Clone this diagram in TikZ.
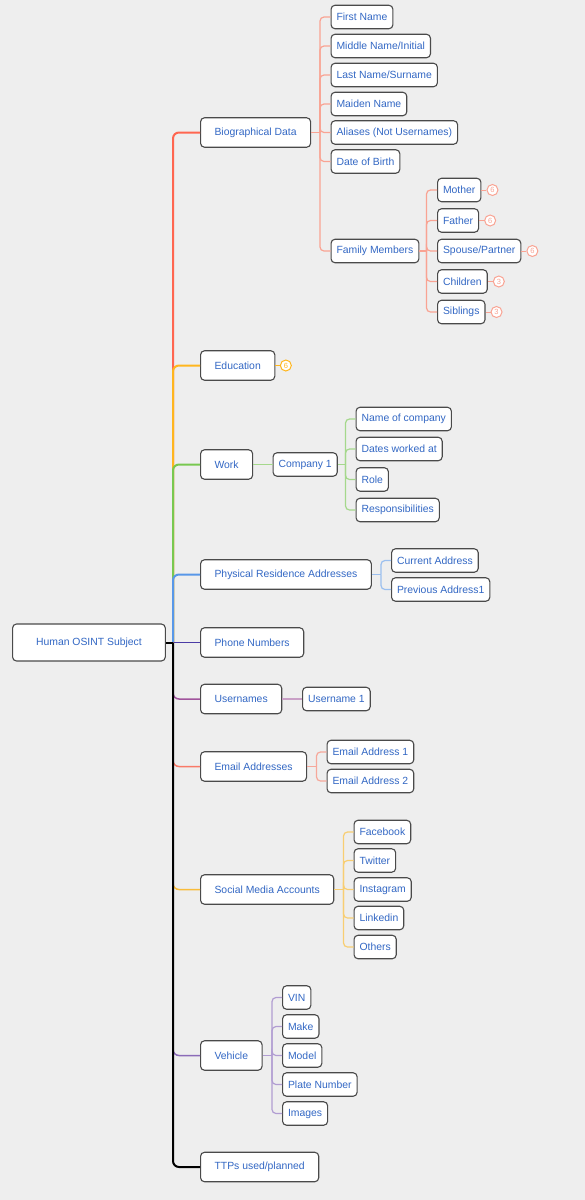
\documentclass[tikz,border=0pt]{standalone}
\usepackage{fontspec}
\setmainfont{Liberation Sans}
\definecolor{bg}{HTML}{EEEEEE}
\definecolor{txt}{HTML}{3267C4}
\definecolor{bord}{HTML}{4A4A4A}
\definecolor{cBio}{HTML}{FF6650}
\definecolor{cBioL}{HTML}{F9A393}
\definecolor{cEdu}{HTML}{FFB61E}
\definecolor{cWork}{HTML}{78C850}
\definecolor{cWorkL}{HTML}{A5D88C}
\definecolor{cPhys}{HTML}{5897E8}
\definecolor{cPhysL}{HTML}{9BBFEE}
\definecolor{cPhone}{HTML}{4A3BA5}
\definecolor{cUser}{HTML}{A0549C}
\definecolor{cUserL}{HTML}{C9A0C6}
\definecolor{cMail}{HTML}{F97A68}
\definecolor{cMailL}{HTML}{F6A89B}
\definecolor{cSoc}{HTML}{F9BC3A}
\definecolor{cSocL}{HTML}{F8CE72}
\definecolor{cVeh}{HTML}{8B6BB8}
\definecolor{cVehL}{HTML}{B19DD2}
\tikzset{
  box/.style={draw=bord, line width=1.1pt, fill=white, rounded corners=4pt,
    text=txt, font=\fontsize{10.4}{12}\selectfont, anchor=west, inner ysep=0pt},
  mainbox/.style={box, inner xsep=14pt, minimum height=29.5pt},
  subbox/.style={box, inner xsep=5.5pt, minimum height=23.5pt},
  rootbox/.style={box, inner xsep=23.5pt, minimum height=37pt},
  badge/.style={circle, draw=#1, line width=1pt, fill=white, text=#1,
    inner sep=0pt, minimum size=11pt, font=\fontsize{7.5}{8}\selectfont, anchor=west},
  trunk/.style={line width=2pt, rounded corners=6pt},
  twig/.style={line width=1.2pt, rounded corners=4pt},
}
\begin{document}
\begin{tikzpicture}[x=1pt,y=-1pt]
\fill[bg] (0,0) rectangle (585,1200);
\useasboundingbox (0,0) rectangle (585,1200);

% bars
\coordinate (trk) at (173,0);
\coordinate (bioBar) at (320,0);
\coordinate (famBar) at (426.5,0);
\coordinate (coBar) at (345.5,0);
\coordinate (phBar) at (381,0);
\coordinate (mailBar) at (316.5,0);
\coordinate (socBar) at (343.5,0);
\coordinate (vehBar) at (272,0);

% root
\node[rootbox] (root) at (12,642.5) {Human OSINT Subject};

% main nodes
\node[mainbox] (bio) at (200,132.5) {Biographical Data};
\node[mainbox] (edu) at (200,365.5) {Education};
\node[mainbox] (work) at (200,464.5) {Work};
\node[mainbox] (phys) at (200,574.5) {Physical Residence Addresses};
\node[mainbox] (phone) at (200,642.5) {Phone Numbers};
\node[mainbox] (user) at (200,699) {Usernames};
\node[mainbox] (mail) at (200,766.5) {Email Addresses};
\node[mainbox] (soc) at (200,889.5) {Social Media Accounts};
\node[mainbox] (veh) at (200,1055.5) {Vehicle};
\node[mainbox] (ttp) at (200,1167) {TTPs used/planned};

% biographical children
\node[subbox] (b1) at (330.5,17) {First Name};
\node[subbox] (b2) at (330.5,46) {Middle Name/Initial};
\node[subbox] (b3) at (330.5,75) {Last Name/Surname};
\node[subbox] (b4) at (330.5,104) {Maiden Name};
\node[subbox] (b5) at (330.5,132.5) {Aliases (Not Usernames)};
\node[subbox] (b6) at (330.5,161.5) {Date of Birth};
\node[subbox] (fam) at (330.5,251) {Family Members};

\node[subbox] (f1) at (437,190) {Mother};
\node[subbox] (f2) at (437,220.5) {Father};
\node[subbox] (f3) at (437,251) {Spouse/Partner};
\node[subbox] (f4) at (437,281.5) {Children};
\node[subbox] (f5) at (437,312) {Siblings};
\node[badge=cBioL] (g1) at ([xshift=5pt]f1.east) {6};
\node[badge=cBioL] (g2) at ([xshift=5pt]f2.east) {6};
\node[badge=cBioL] (g3) at ([xshift=5pt]f3.east) {6};
\node[badge=cBioL] (g4) at ([xshift=5pt]f4.east) {3};
\node[badge=cBioL] (g5) at ([xshift=5pt]f5.east) {3};
\node[badge=cEdu] (ge) at ([xshift=4.5pt]edu.east) {6};

% work
\node[subbox] (co) at (272.5,464.5) {Company 1};
\node[subbox] (w1) at (355.5,419) {Name of company};
\node[subbox] (w2) at (355.5,449) {Dates worked at};
\node[subbox] (w3) at (355.5,479.5) {Role};
\node[subbox] (w4) at (355.5,510) {Responsibilities};

% physical
\node[subbox] (p1) at (391,560.5) {Current Address};
\node[subbox] (p2) at (391,589.5) {Previous Address1};

% usernames
\node[subbox] (u1) at (302,699) {Username 1};

% email
\node[subbox] (m1) at (326.5,752) {Email Address 1};
\node[subbox] (m2) at (326.5,781) {Email Address 2};

% social
\node[subbox] (s1) at (353.5,832) {Facebook};
\node[subbox] (s2) at (353.5,860.5) {Twitter};
\node[subbox] (s3) at (353.5,889.5) {Instagram};
\node[subbox] (s4) at (353.5,918) {Linkedin};
\node[subbox] (s5) at (353.5,947) {Others};

% vehicle
\node[subbox] (v1) at (282,997.5) {VIN};
\node[subbox] (v2) at (282,1026.5) {Make};
\node[subbox] (v3) at (282,1055.5) {Model};
\node[subbox] (v4) at (282,1084.5) {Plate Number};
\node[subbox] (v5) at (282,1113.5) {Images};

% ---- trunk connectors ----
\coordinate (rj) at (root.east -| trk);
\draw[trunk, cBio] (rj) |- (bio.west);
\draw[trunk, cEdu] (rj) |- (edu.west);
\draw[trunk, cWork] (rj) |- (work.west);
\draw[trunk, cPhys] (rj) |- (phys.west);
\draw[line width=1.3pt, cPhone] (rj) -- (phone.west);
\draw[trunk, cUser, line width=1.5pt] (rj) |- (user.west);
\draw[trunk, cMail, line width=1.5pt] (rj) |- (mail.west);
\draw[trunk, cSoc, line width=1.5pt] (rj) |- (soc.west);
\draw[trunk, cVeh, line width=1.5pt] (rj) |- (veh.west);
\draw[trunk, black] (rj) |- (ttp.west);
\draw[line width=2pt, black] (root.east) -- (rj);

% ---- biographical ----
\coordinate (bj) at (bio.east -| bioBar);
\draw[twig, cBioL] (bio.east) -- (bj);
\foreach \n in {b1,b2,b3,b4,b5,b6,fam} \draw[twig, cBioL] (bj) |- (\n.west);
\coordinate (fj) at (fam.east -| famBar);
\draw[twig, cBioL] (fam.east) -- (fj);
\foreach \n in {f1,f2,f3,f4,f5} \draw[twig, cBioL] (fj) |- (\n.west);
\draw[line width=1pt, cBioL] (f1.east) -- (g1.west);
\draw[line width=1pt, cBioL] (f2.east) -- (g2.west);
\draw[line width=1pt, cBioL] (f3.east) -- (g3.west);
\draw[line width=1pt, cBioL] (f4.east) -- (g4.west);
\draw[line width=1pt, cBioL] (f5.east) -- (g5.west);
\draw[line width=1pt, cEdu] (edu.east) -- (ge.west);

% ---- work ----
\draw[twig, cWorkL] (work.east) -- (co.west);
\coordinate (cj) at (co.east -| coBar);
\draw[twig, cWorkL] (co.east) -- (cj);
\foreach \n in {w1,w2,w3,w4} \draw[twig, cWorkL] (cj) |- (\n.west);

% ---- physical ----
\coordinate (pj) at (phys.east -| phBar);
\draw[twig, cPhysL] (phys.east) -- (pj);
\foreach \n in {p1,p2} \draw[twig, cPhysL] (pj) |- (\n.west);

% ---- usernames ----
\draw[twig, cUserL] (user.east) -- (u1.west);

% ---- email ----
\coordinate (mj) at (mail.east -| mailBar);
\draw[twig, cMailL] (mail.east) -- (mj);
\foreach \n in {m1,m2} \draw[twig, cMailL] (mj) |- (\n.west);

% ---- social ----
\coordinate (sj) at (soc.east -| socBar);
\draw[twig, cSocL] (soc.east) -- (sj);
\foreach \n in {s1,s2,s3,s4,s5} \draw[twig, cSocL] (sj) |- (\n.west);

% ---- vehicle ----
\coordinate (vj) at (veh.east -| vehBar);
\draw[twig, cVehL] (veh.east) -- (vj);
\foreach \n in {v1,v2,v3,v4,v5} \draw[twig, cVehL] (vj) |- (\n.west);
\end{tikzpicture}
\end{document}
